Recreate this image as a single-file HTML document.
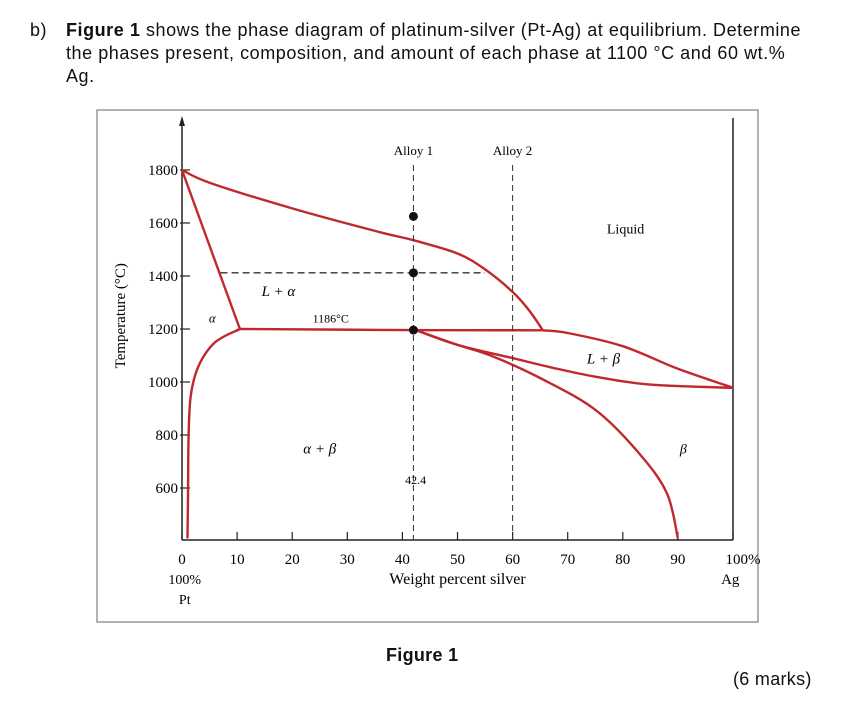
<!DOCTYPE html>
<html><head><meta charset="utf-8"><style>
body{margin:0;width:857px;height:713px;background:#fff;position:relative;font-family:"Liberation Sans",sans-serif;color:#111;overflow:hidden}
.q{position:absolute;font-size:18px;line-height:23px;white-space:nowrap;letter-spacing:0.55px}
</style></head><body>
<div class="q" style="left:30px;top:19px">b)</div>
<div class="q" style="left:66px;top:19px"><b>Figure 1</b> shows the phase diagram of platinum-silver (Pt-Ag) at equilibrium. Determine<br>the phases present, composition, and amount of each phase at 1100 °C and 60 wt.%<br>Ag.</div>
<svg width="857" height="713" style="position:absolute;left:0;top:0" font-family="Liberation Serif, serif">
<rect x="97" y="110" width="661" height="512" fill="none" stroke="#999" stroke-width="1.5"/>
<g id="g"></g>
</svg>
<div class="q" style="left:386px;top:644px;font-weight:bold;letter-spacing:0.3px">Figure 1</div>
<div class="q" style="left:733px;top:668px;letter-spacing:0.3px">(6 marks)</div>
<script>
const xTicks=[0,10,20,30,40,50,60,70,80,90,100];
const yTicks=[600,800,1000,1200,1400,1600,1800];
const liquidus=[[0,1800],[5,1752],[20,1655],[35,1570],[42,1535],[50,1485],[55,1425],[60,1340],[63,1270],[65.5,1195]];
const alphaSolidus=[[0,1800],[10.5,1200]];
const alphaSolvus=[[10.5,1200],[6,1150],[3,1060],[1.6,950],[1.2,800],[1.1,600],[1,410]];
const peritectic=[[10.5,1200],[42.4,1196],[65.5,1195]];
const betaLiquidus=[[65.5,1195],[70,1185],[80,1135],[90,1050],[100,978]];
const betaSolidus=[[42.4,1196],[50,1140],[60,1090],[67,1055],[75,1020],[85,990],[100,978]];
const betaSolvus=[[42.4,1196],[50,1140],[56,1100],[65,1015],[75,895],[83,730],[88,580],[90,410]];
const alloyX=[42,60];
const dots=[[42,1625],[42,1412],[42,1196]];
const X=v=>182+v*5.51, Y=t=>329-(t-1200)*0.265;
const g=document.getElementById('g'),NS='http://www.w3.org/2000/svg';
function el(t,a,txt){const e=document.createElementNS(NS,t);for(const k in a)e.setAttribute(k,a[k]);if(txt!=null)e.textContent=txt;g.appendChild(e);return e;}
const A=el('line',{x1:X(0),y1:Y(404),x2:X(0),y2:122,stroke:'#222','stroke-width':1.5});

const ar=el('polygon',{points:`${X(0)-3},126 ${X(0)+3},126 ${X(0)},116`,fill:'#222'});

const B=el('line',{x1:X(0),y1:Y(404),x2:X(100),y2:Y(404),stroke:'#222','stroke-width':1.5});

const R=el('line',{x1:X(100),y1:Y(404),x2:X(100),y2:118,stroke:'#222','stroke-width':1.5});

xTicks.forEach(v=>{const t=el('line',{x1:X(v),y1:Y(404),x2:X(v),y2:Y(404)-8,stroke:'#222','stroke-width':1.2});

const l=el('text',{x:X(v)+(v==100?10:0),y:Y(404)+24,'text-anchor':'middle','font-size':15},v==100?'100%':v);
});
yTicks.forEach(v=>{const t=el('line',{x1:X(0)-2,y1:Y(v),x2:X(0)+8,y2:Y(v),stroke:'#222','stroke-width':1.2});

const l=el('text',{x:X(0)-4,y:Y(v)+5,'text-anchor':'end','font-size':15},v);
});
function pth(p){const q=p.map(a=>[X(a[0]),Y(a[1])]);let d='M'+q[0][0].toFixed(1)+','+q[0][1].toFixed(1);
for(let i=0;i<q.length-1;i++){const p0=q[Math.max(i-1,0)],p1=q[i],p2=q[i+1],p3=q[Math.min(i+2,q.length-1)];
const c1=[p1[0]+(p2[0]-p0[0])/6,p1[1]+(p2[1]-p0[1])/6],c2=[p2[0]-(p3[0]-p1[0])/6,p2[1]-(p3[1]-p1[1])/6];
d+=` C${c1[0].toFixed(1)},${c1[1].toFixed(1)} ${c2[0].toFixed(1)},${c2[1].toFixed(1)} ${p2[0].toFixed(1)},${p2[1].toFixed(1)}`;}return d;}
function curve(pts,name){const e=el('path',{d:pth(pts),fill:'none',stroke:'#c0282e','stroke-width':2.4,'stroke-linejoin':'round'});
}
curve(liquidus,'liquidus-curve');curve(alphaSolidus,'alpha-solidus');curve(alphaSolvus,'alpha-solvus');
curve(peritectic,'peritectic-line');curve(betaLiquidus,'beta-liquidus');curve(betaSolidus,'beta-solidus');curve(betaSolvus,'beta-solvus');
alloyX.forEach((a,i)=>{const d=el('line',{x1:X(a),y1:165,x2:X(a),y2:Y(404),stroke:'#333','stroke-width':1,'stroke-dasharray':'6,4'});

const l=el('text',{x:X(a),y:155,'text-anchor':'middle','font-size':13},'Alloy '+(i+1));
});
const h=el('line',{x1:X(7),y1:Y(1412),x2:X(55),y2:Y(1412),stroke:'#333','stroke-width':1.3,'stroke-dasharray':'7,4'});

dots.forEach(d=>{const c=el('circle',{cx:X(d[0]),cy:Y(d[1]),r:4.5,fill:'#111'});
});
const labels=[['Liquid',X(80.5),Y(1560),14,''],['L + α',X(17.5),Y(1325),15,'italic'],['α',X(5.5),Y(1225),13,'italic'],['1186°C',X(27),Y(1225),12,''],
['L + β',X(76.5),Y(1070),15,'italic'],['α + β',X(25),Y(730),15,'italic'],['β',X(91),Y(730),14,'italic'],['42.4',X(42.4),Y(615),12,''],
['100%',X(0.5),Y(404)+44,14,''],['Pt',X(0.5),Y(404)+64,14,''],['Weight percent silver',X(50),Y(404)+44,16,''],['Ag',X(99.5),Y(404)+44,15,'']];
labels.forEach(a=>{const t=el('text',{x:a[1],y:a[2],'text-anchor':'middle','font-size':a[3],'font-style':a[4]||'normal'},a[0]);
});
const yt=el('text',{x:0,y:0,'text-anchor':'middle','font-size':15,transform:`translate(125,${Y(1250)}) rotate(-90)`},'Temperature (°C)');

</script>
</body></html>
